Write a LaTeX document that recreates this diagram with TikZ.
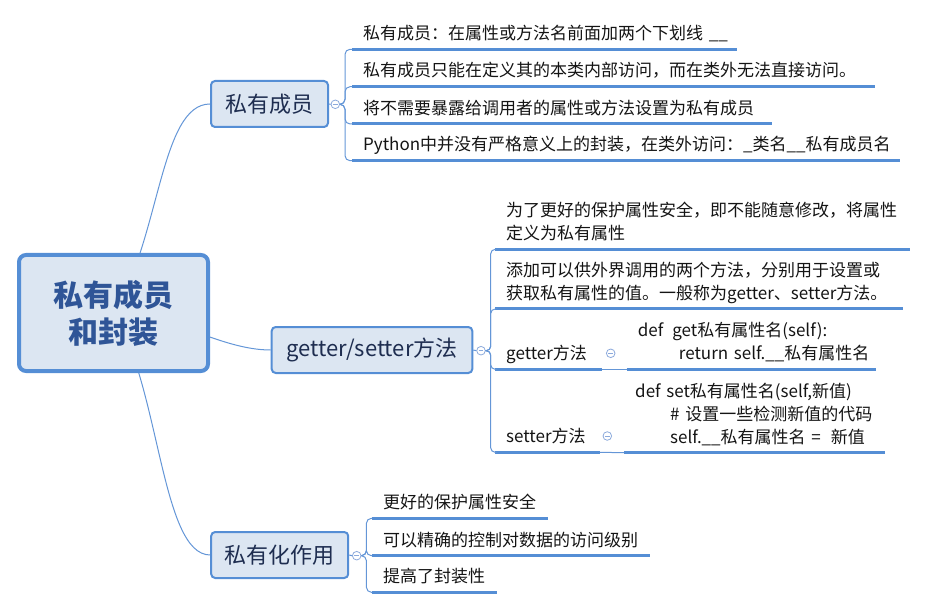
\documentclass[tikz,border=0pt]{standalone}
\usepackage{fontspec}
\setmainfont{Noto Sans CJK SC}
\usetikzlibrary{calc,backgrounds}
\definecolor{boxfill}{RGB}{220,230,242}
\definecolor{bordc}{RGB}{85,142,213}
\definecolor{connc}{RGB}{100,150,215}
\definecolor{foldc}{RGB}{140,170,220}
\definecolor{roottext}{RGB}{47,85,151}
\definecolor{branchtext}{RGB}{30,45,80}
\definecolor{leaftext}{RGB}{20,20,20}
\tikzset{
  rootbox/.style={draw=bordc, line width=4pt, fill=boxfill, rounded corners=7pt,
    minimum width=189pt, minimum height=116pt, inner sep=0pt, align=center,
    font=\fontsize{30}{37}\selectfont\bfseries, text=roottext},
  branchbox/.style={draw=bordc, line width=2pt, fill=boxfill, rounded corners=4pt,
    minimum height=46pt, inner sep=0pt, font=\fontsize{22}{26}\selectfont, text=branchtext},
  leaf/.style={anchor=south west, inner xsep=11pt, inner ysep=2.6pt, align=left,
    font=\fontsize{17}{23}\selectfont, text=leaftext, execute at end node=\strut},
  uline/.style={draw=bordc, line width=3pt},
  conn/.style={draw=connc, line width=1pt},
  fold/.style={circle, draw=foldc, fill=white, line width=0.8pt, minimum size=8.6pt, inner sep=0pt,
    path picture={\draw[foldc, line width=0.8pt]
      ([xshift=-2.4pt]path picture bounding box.center) -- ([xshift=2.4pt]path picture bounding box.center);}}
}
\begin{document}
\begin{tikzpicture}[x=1pt,y=-1pt]
\useasboundingbox (0,0) rectangle (928,609);

% root and branches
\node[rootbox] (root) at (113.5,313) {私有成员\\和封装};
\node[branchbox, minimum width=117pt] (b1) at (269.5,104) {私有成员};
\node[branchbox, minimum width=200.6pt] (b2) at (372,350) {getter/setter方法};
\node[branchbox, minimum width=137pt] (b3) at (279.7,555) {私有化作用};

\node[fold] (f1) at (335.3,104.3) {};
\node[fold] (f2) at (481,350.7) {};
\node[fold] (f3) at (356.7,555.7) {};

% branch 1 leaves
\node[leaf, text width=363pt] (l11) at (352,49.3) {私有成员：在属性或方法名前面加两个下划线~\_\_};
\node[leaf, text width=501pt] (l12) at (352,86.7) {私有成员只能在定义其的本类内部访问，而在类外无法直接访问。};
\node[leaf, text width=398pt] (l13) at (352,124) {将不需要暴露给调用者的属性或方法设置为私有成员};
\node[leaf, text width=526pt] (l14) at (352,160.7) {Python中并没有严格意义上的封装，在类外访问：\_类名\_\_私有成员名};

% branch 2 leaves
\node[leaf, text width=393pt] (l21) at (495,249.3) {为了更好的保护属性安全，即不能随意修改，将属性\\定义为私有属性};
\node[leaf, text width=386pt] (l22) at (495,309) {添加可以供外界调用的两个方法，分别用于设置或\\获取私有属性的值。一般称为getter、setter方法。};
\node[leaf, text width=84.7pt] (lg) at (495,369.3) {getter方法};
\node[leaf, text width=82.3pt] (ls) at (495,452.3) {setter方法};
\node[leaf, text width=227.3pt] (cg) at (626.7,369.3) {\mbox{def\hspace{9pt}get私有属性名(self):}\\\mbox{\hspace*{41pt}return~self.\_\_私有属性名}};
\node[leaf, text width=238.3pt] (cs) at (624,452.7) {\mbox{def~set私有属性名(self,新值)}\\\mbox{\hspace*{35pt}\#~设置一些检测新值的代码}\\\mbox{\hspace*{35pt}self.\_\_私有属性名~=\hspace{10pt}新值}};
\node[fold] (fg) at (610.7,353.3) {};
\node[fold] (fs) at (607.3,436) {};

% branch 3 leaves
\node[leaf, text width=154pt] (l31) at (372,518.3) {更好的保护属性安全};
\node[leaf, text width=256pt] (l32) at (372,555.7) {可以精确的控制对数据的访问级别};
\node[leaf, text width=103pt] (l33) at (372,592.3) {提高了封装性};

% underlines
\foreach \n in {l11,l12,l13,l14,l21,l22,lg,ls,cg,cs,l31,l32,l33}
  \draw[uline] (\n.south west) -- (\n.south east);

% brackets
\draw[conn] (b1.east) -- (f1.west);
\draw[conn] (b2.east) -- (f2.west);
\draw[conn] (b3.east) -- (f3.west);
\foreach \n in {l11,l12,l13,l14}
  \draw[conn, rounded corners=5pt] (f1.east) -- ++(5,0) |- (\n.south west);
\foreach \n in {l21,l22,lg,ls}
  \draw[conn, rounded corners=4.5pt] (f2.east) -- ++(5,0) |- (\n.south west);
\foreach \n in {l31,l32,l33}
  \draw[conn, rounded corners=5pt] (f3.east) -- ++(5,0) |- (\n.south west);
\draw[conn] (lg.south east) -- (cg.south west);
\draw[conn] (ls.south east) -- (cs.south west);

% root connectors
\begin{scope}[on background layer]
\draw[conn] (root.center) .. controls ($(root.center)+(46.5,-73)$) and ($(b1.west)+(-50,0)$) .. (b1.west);
\draw[conn] (root.center) .. controls ($(root.center)+(56.5,0)$) and ($(b2.west)+(-50.7,0)$) .. (b2.west);
\draw[conn] (root.center) .. controls ($(root.center)+(46.5,73)$) and ($(b3.west)+(-49.3,0)$) .. (b3.west);
\end{scope}
\end{tikzpicture}
\end{document}
